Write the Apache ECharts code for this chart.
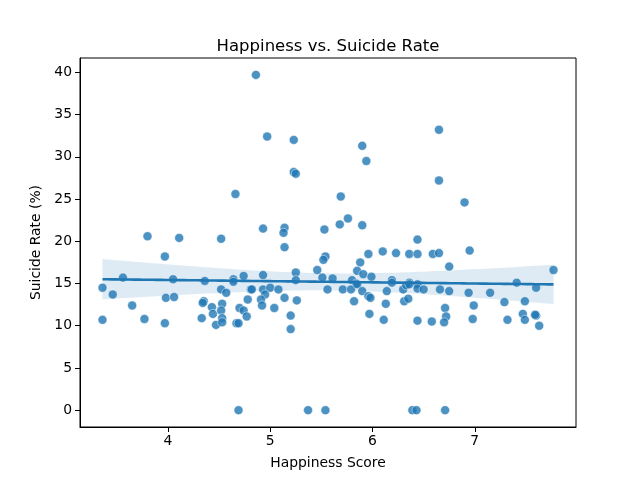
<!DOCTYPE html>
<html>
<head>
<meta charset="utf-8">
<script src="https://cdn.jsdelivr.net/npm/echarts@6/dist/echarts.min.js"></script>
<style>
  html, body { margin: 0; padding: 0; background: #fff; }
  #chart { width: 640px; height: 480px; }
</style>
</head>
<body>
<div id="chart"></div>
<script>
// happiness score of each country
var happiness = [
  4.66, 3.80, 4.11, 4.52, 3.97, 3.56, 4.05, 4.36, 4.64, 4.64, 4.74, 3.36, 3.46, 4.52, 4.57, 4.81,
  3.98, 4.06, 3.65, 4.35, 4.34, 4.43, 4.44, 4.53, 4.52, 4.53, 4.47, 4.53, 4.33, 4.70, 4.74, 4.77,
  4.78, 4.67, 4.69, 3.36, 3.77, 3.97,
  5.69, 5.76, 5.68, 5.90, 5.53, 4.93, 5.14, 5.13, 5.14, 5.96, 6.10, 6.23, 6.36, 6.44, 6.44, 5.54,
  5.52, 5.88, 5.46, 5.25, 5.85, 5.91, 5.99, 4.93, 5.51, 5.61, 5.25, 5.80, 5.84, 6.19, 6.19, 6.36,
  4.82, 4.93, 5.00, 5.08, 4.95, 4.91, 4.92, 5.14, 5.04, 5.26, 5.20, 5.20, 5.56, 5.71, 5.79, 5.85,
  5.90, 5.82, 5.96, 5.98, 5.97, 6.14, 6.13, 6.11, 6.30, 6.31, 6.35, 6.33, 6.36, 6.44, 6.44,
  6.65, 6.90, 6.59, 6.65, 6.95, 6.75, 7.77, 6.44, 6.50, 6.66, 6.75, 6.94, 7.15, 7.41, 7.60, 7.49,
  7.29, 6.99, 6.71, 6.72, 7.47, 7.49, 7.60, 7.59, 7.63, 7.32, 6.98, 6.58, 6.70,
  4.86, 4.97, 5.23, 5.90, 5.94, 5.23, 5.25, 6.65,
  4.69, 5.37, 5.54, 6.39, 6.43, 6.71
];
// suicide rate (%) of the same countries
var suicideRate = [
  25.6, 20.6, 20.4, 20.3, 18.2, 15.7, 15.5, 15.3, 15.5, 15.2, 15.9, 14.5, 13.7, 14.3, 13.9, 14.3,
  13.3, 13.4, 12.4, 12.9, 12.7, 12.2, 11.4, 12.6, 11.8, 10.9, 10.1, 10.4, 10.9, 12.1, 11.8, 11.1,
  13.1, 10.3, 10.3, 10.7, 10.8, 10.3,
  25.3, 22.7, 22.0, 21.9, 21.4, 21.5, 21.6, 21.0, 19.3, 18.5, 18.8, 18.6, 18.5, 20.2, 18.5, 18.2,
  17.8, 17.5, 16.6, 16.3, 16.5, 16.1, 15.8, 16.0, 15.7, 15.6, 15.4, 15.4, 15.0, 15.4, 15.1, 15.1,
  14.3, 14.3, 14.5, 14.3, 13.7, 13.1, 12.4, 13.3, 12.1, 13.0, 11.2, 9.6, 14.3, 14.3, 14.3, 14.9,
  14.1, 12.9, 13.5, 13.3, 11.4, 14.1, 12.6, 10.7, 14.3, 12.9, 13.2, 14.8, 14.9, 14.9, 10.6,
  27.2, 24.6, 18.5, 18.6, 18.9, 17.0, 16.6, 14.4, 14.3, 14.3, 14.1, 13.9, 13.9, 15.1, 14.5, 12.9,
  12.8, 12.4, 12.1, 11.1, 11.4, 10.7, 11.2, 11.3, 10.0, 10.7, 10.8, 10.5, 10.4,
  39.7, 32.4, 32.0, 31.3, 29.5, 28.2, 28.0, 33.2,
  0, 0, 0, 0, 0, 0
];
var xTicks = [4, 5, 6, 7];
var yTicks = [0, 5, 10, 15, 20, 25, 30, 35, 40];

var chart = echarts.init(document.getElementById('chart'));

// 散点
var points = happiness.map(function (x, i) { return [x, suicideRate[i]]; });

// 线性回归 + 95% 置信带
var n = points.length;
var mx = 0, my = 0;
points.forEach(function (p) { mx += p[0]; my += p[1]; });
mx /= n; my /= n;
var sxx = 0, sxy = 0;
points.forEach(function (p) { sxx += (p[0] - mx) * (p[0] - mx); sxy += (p[0] - mx) * (p[1] - my); });
var slope = sxy / sxx, icpt = my - slope * mx;
var sse = 0;
points.forEach(function (p) { var r = p[1] - (icpt + slope * p[0]); sse += r * r; });
var s = Math.sqrt(sse / (n - 2));
var xmin = Math.min.apply(null, happiness), xmax = Math.max.apply(null, happiness);
var fitLine = [], upper = [], lower = [];
for (var k = 0; k <= 100; k++) {
  var x = xmin + (xmax - xmin) * k / 100;
  var yh = icpt + slope * x;
  var se = s * Math.sqrt(1 / n + (x - mx) * (x - mx) / sxx);
  fitLine.push([x, yh]);
  upper.push([x, yh + 1.97 * se]);
  lower.push([x, yh - 1.97 * se]);
}

var font = 'DejaVu Sans';
var option = {
  animation: false,
  title: {
    text: 'Happiness vs. Suicide Rate',
    left: 323, top: 33, textAlign: 'center',
    textStyle: { fontFamily: font, fontSize: 16.5, fontWeight: 'normal', color: '#000' }
  },
  grid: { left: 80, right: 64, top: 58, bottom: 53, show: true, borderColor: '#000', borderWidth: 1, backgroundColor: 'transparent' },
  xAxis: {
    type: 'value', min: 3.14, max: 7.99,
    name: 'Happiness Score', nameLocation: 'middle', nameGap: 29,
    nameTextStyle: { fontFamily: font, fontSize: 13.9, color: '#000' },
    axisLine: { onZero: false, lineStyle: { color: '#000', width: 1 } },
    axisTick: { show: true, length: 5, customValues: xTicks, lineStyle: { color: '#000' } },
    axisLabel: { customValues: xTicks, fontFamily: font, fontSize: 13.9, color: '#000', margin: 7 },
    splitLine: { show: false }
  },
  yAxis: {
    type: 'value', min: -1.99, max: 41.7,
    name: 'Suicide Rate (%)', nameLocation: 'middle', nameGap: 31,
    nameTextStyle: { fontFamily: font, fontSize: 13.9, color: '#000' },
    axisLine: { show: true, onZero: false, lineStyle: { color: '#000', width: 1 } },
    axisTick: { show: true, length: 5, customValues: yTicks, lineStyle: { color: '#000' } },
    axisLabel: { customValues: yTicks, fontFamily: font, fontSize: 13.9, color: '#000', margin: 8 },
    splitLine: { show: false }
  },
  series: [{
    // 置信带
    type: 'custom',
    data: [[xmin, 0]],
    z: 1,
    silent: true,
    renderItem: function (params, api) {
      var pts = upper.map(function (p) { return api.coord(p); });
      for (var i = lower.length - 1; i >= 0; i--) pts.push(api.coord(lower[i]));
      return {
        type: 'polygon',
        shape: { points: pts },
        style: { fill: 'rgba(31,119,180,0.15)', stroke: 'none' }
      };
    }
  }, {
    type: 'scatter',
    data: points,
    symbolSize: 9,
    z: 2,
    itemStyle: { color: 'rgba(31,119,180,0.8)', borderColor: 'rgba(255,255,255,0.8)', borderWidth: 0.6, opacity: 1 }
  }, {
    type: 'line',
    data: fitLine,
    showSymbol: false,
    z: 3,
    lineStyle: { color: '#1f77b4', width: 2.6 }
  }]
};
chart.setOption(option);
</script>
</body>
</html>
